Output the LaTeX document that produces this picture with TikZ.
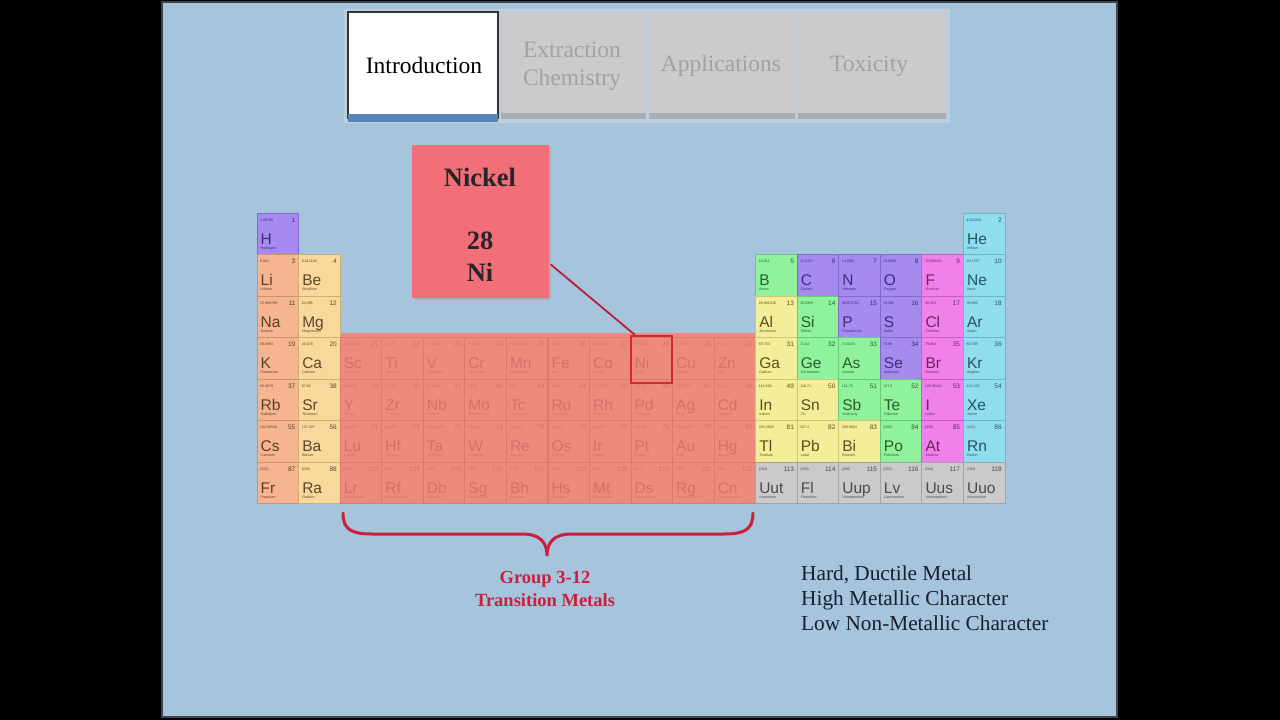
\documentclass[tikz,border=0pt]{standalone}
\usepackage{fontspec}
\setmainfont{Liberation Serif}
\newfontfamily\elfont{Liberation Sans}
\usetikzlibrary{shadows,calc}
\definecolor{slidebg}{HTML}{A7C4DD}
\definecolor{slideborder}{HTML}{3C4652}
\definecolor{tabgray}{HTML}{CBCBCB}
\definecolor{tabtext}{HTML}{A2A2A2}
\definecolor{tabbar}{HTML}{A8AEB6}
\definecolor{tabblue}{HTML}{5584B8}
\definecolor{tabframe}{HTML}{BFCEDC}
\definecolor{niboxc}{HTML}{F26E78}
\definecolor{bracered}{HTML}{C8203E}
\definecolor{hiline}{HTML}{D02A30}
\definecolor{conline}{HTML}{B8203A}
\definecolor{rtext}{HTML}{16202E}
% category colours
\definecolor{falk}{HTML}{F5B590}\definecolor{talk}{HTML}{5E3E28}\definecolor{dalk}{HTML}{D09068}
\definecolor{fear}{HTML}{F8D89C}\definecolor{tear}{HTML}{5C4826}\definecolor{dear}{HTML}{CFAE72}
\definecolor{fnon}{HTML}{A68AEF}\definecolor{tnon}{HTML}{3E2C76}\definecolor{dnon}{HTML}{8468CE}
\definecolor{fnob}{HTML}{90DDF0}\definecolor{tnob}{HTML}{245264}\definecolor{dnob}{HTML}{68B8CC}
\definecolor{fhal}{HTML}{F080EA}\definecolor{thal}{HTML}{66285F}\definecolor{dhal}{HTML}{CA5CC4}
\definecolor{fmet}{HTML}{90F29C}\definecolor{tmet}{HTML}{285E2C}\definecolor{dmet}{HTML}{68CC76}
\definecolor{fpst}{HTML}{F4EE9A}\definecolor{tpst}{HTML}{56501C}\definecolor{dpst}{HTML}{CEC874}
\definecolor{funk}{HTML}{CACACA}\definecolor{tunk}{HTML}{4A4A4A}\definecolor{dunk}{HTML}{A4A4A4}
\definecolor{ftra}{HTML}{EC8A7E}\definecolor{ttra}{HTML}{D27266}\definecolor{dtra}{HTML}{DC7A6E}
\tikzset{
  cell/.style={minimum width=41.5pt, minimum height=41.5pt, inner sep=0pt, outer sep=0pt, anchor=north west, line width=0.7pt},
  symtext/.style={font=\elfont\fontsize{15.5}{16}\selectfont, inner sep=0pt, anchor=base west},
  numtext/.style={font=\elfont\fontsize{6.5}{7}\selectfont, inner sep=0pt, anchor=base east},
  masstext/.style={font=\elfont\fontsize{3.6}{4}\selectfont, inner sep=0pt, anchor=base west},
  nametext/.style={font=\elfont\fontsize{3.6}{4}\selectfont, inner sep=0pt, anchor=base west},
  tabbox/.style={minimum width=145pt, minimum height=104pt, inner sep=0pt, outer sep=0pt, fill=tabgray},
  tablabel/.style={font=\fontsize{23.5}{28}\selectfont, text=tabtext, align=center, inner sep=0pt},
  nilabel/.style={font=\bfseries\fontsize{26.5}{30}\selectfont, text=black!85, inner sep=0pt},
  grouplabel/.style={font=\bfseries\fontsize{18.5}{23}\selectfont, text=bracered, align=center, inner sep=0pt},
  proptext/.style={font=\fontsize{21.3}{25}\selectfont, text=rtext, align=left, inner sep=0pt, anchor=north west},
}
\begin{document}
\begin{tikzpicture}[x=1pt,y=-1pt]
\useasboundingbox (0,0) rectangle (1280,720);
\fill[black] (0,0) rectangle (1280,720);
% slide
\filldraw[fill=slidebg, draw=slideborder, line width=1.8pt] (162,2) rectangle (1117,717);

% tabs
\fill[tabframe] (344,9) rectangle (950,123);
\node[tabbox, fill=white, draw=black!80, line width=1.5pt, minimum width=150pt, minimum height=106pt, anchor=north west] (tabintro) at (348,12) {};
\fill[tabblue] (348,114) rectangle (498,122);
\node[font=\fontsize{23.5}{28}\selectfont, inner sep=0pt] (tintro) at (424,65) {Introduction};
\node[tabbox, anchor=north west] (tabextr) at (501,13) {};
\fill[tabbar] (501,113) rectangle (646,119);
\node[tablabel] (textr) at (572,66) {Extraction\\Chemistry};
\node[tabbox, anchor=north west, minimum width=146pt] (tabappl) at (649,13) {};
\fill[tabbar] (649,113) rectangle (795,119);
\node[tablabel] (tappl) at (721,66) {Applications};
\node[tabbox, anchor=north west, minimum width=148pt] (tabtox) at (798,13) {};
\fill[tabbar] (798,113) rectangle (946,119);
\node[tablabel] (ttox) at (869,66) {Toxicity};

% transition block backdrop
\fill[ftra] (341,333) rectangle (757,503);

% periodic table
\foreach \c/\r/\s/\n/\nm/\m/\k in {
1/1/H/1/Hydrogen/1.00794/non, 18/1/He/2/Helium/4.002602/nob,
1/2/Li/3/Lithium/6.941/alk, 2/2/Be/4/Beryllium/9.012182/ear, 13/2/B/5/Boron/10.811/met, 14/2/C/6/Carbon/12.0107/non, 15/2/N/7/Nitrogen/14.0067/non, 16/2/O/8/Oxygen/15.9994/non, 17/2/F/9/Fluorine/18.998403/hal, 18/2/Ne/10/Neon/20.1797/nob,
1/3/Na/11/Sodium/22.989769/alk, 2/3/Mg/12/Magnesium/24.305/ear, 13/3/Al/13/Aluminium/26.981538/pst, 14/3/Si/14/Silicon/28.0855/met, 15/3/P/15/Phosphorus/30.973762/non, 16/3/S/16/Sulfur/32.065/non, 17/3/Cl/17/Chlorine/35.453/hal, 18/3/Ar/18/Argon/39.948/nob,
1/4/K/19/Potassium/39.0983/alk, 2/4/Ca/20/Calcium/40.078/ear, 3/4/Sc/21/Scandium/44.955912/tra, 4/4/Ti/22/Titanium/47.867/tra, 5/4/V/23/Vanadium/50.9415/tra, 6/4/Cr/24/Chromium/51.9961/tra, 7/4/Mn/25/Manganese/54.938045/tra, 8/4/Fe/26/Iron/55.845/tra, 9/4/Co/27/Cobalt/58.933195/tra, 10/4/Ni/28/Nickel/58.6934/tra, 11/4/Cu/29/Copper/63.546/tra, 12/4/Zn/30/Zinc/65.38/tra, 13/4/Ga/31/Gallium/69.723/pst, 14/4/Ge/32/Germanium/72.64/met, 15/4/As/33/Arsenic/74.9216/met, 16/4/Se/34/Selenium/78.96/non, 17/4/Br/35/Bromine/79.904/hal, 18/4/Kr/36/Krypton/83.798/nob,
1/5/Rb/37/Rubidium/85.4678/alk, 2/5/Sr/38/Strontium/87.62/ear, 3/5/Y/39/Yttrium/88.90585/tra, 4/5/Zr/40/Zirconium/91.224/tra, 5/5/Nb/41/Niobium/92.90638/tra, 6/5/Mo/42/Molybdenum/95.96/tra, 7/5/Tc/43/Technetium/(98)/tra, 8/5/Ru/44/Ruthenium/101.07/tra, 9/5/Rh/45/Rhodium/102.9055/tra, 10/5/Pd/46/Palladium/106.42/tra, 11/5/Ag/47/Silver/107.8682/tra, 12/5/Cd/48/Cadmium/112.411/tra, 13/5/In/49/Indium/114.818/pst, 14/5/Sn/50/Tin/118.71/pst, 15/5/Sb/51/Antimony/121.76/met, 16/5/Te/52/Tellurium/127.6/met, 17/5/I/53/Iodine/126.90447/hal, 18/5/Xe/54/Xenon/131.293/nob,
1/6/Cs/55/Caesium/132.90545/alk, 2/6/Ba/56/Barium/137.327/ear, 3/6/Lu/71/Lutetium/174.967/tra, 4/6/Hf/72/Hafnium/178.49/tra, 5/6/Ta/73/Tantalum/180.94788/tra, 6/6/W/74/Tungsten/183.84/tra, 7/6/Re/75/Rhenium/186.207/tra, 8/6/Os/76/Osmium/190.23/tra, 9/6/Ir/77/Iridium/192.217/tra, 10/6/Pt/78/Platinum/195.084/tra, 11/6/Au/79/Gold/196.96657/tra, 12/6/Hg/80/Mercury/200.59/tra, 13/6/Tl/81/Thallium/204.3833/pst, 14/6/Pb/82/Lead/207.2/pst, 15/6/Bi/83/Bismuth/208.9804/pst, 16/6/Po/84/Polonium/(209)/met, 17/6/At/85/Astatine/(210)/hal, 18/6/Rn/86/Radon/(222)/nob,
1/7/Fr/87/Francium/(223)/alk, 2/7/Ra/88/Radium/(226)/ear, 3/7/Lr/103/Lawrencium/(262)/tra, 4/7/Rf/104/Rutherfordium/(267)/tra, 5/7/Db/105/Dubnium/(268)/tra, 6/7/Sg/106/Seaborgium/(271)/tra, 7/7/Bh/107/Bohrium/(272)/tra, 8/7/Hs/108/Hassium/(270)/tra, 9/7/Mt/109/Meitnerium/(276)/tra, 10/7/Ds/110/Darmstadtium/(281)/tra, 11/7/Rg/111/Roentgenium/(280)/tra, 12/7/Cn/112/Copernicium/(285)/tra, 13/7/Uut/113/Ununtrium/(284)/unk, 14/7/Fl/114/Flerovium/(289)/unk, 15/7/Uup/115/Ununpentium/(288)/unk, 16/7/Lv/116/Livermorium/(293)/unk, 17/7/Uus/117/Ununseptium/(294)/unk, 18/7/Uuo/118/Ununoctium/(294)/unk}
{
  \pgfmathsetmacro{\X}{257+(\c-1)*41.55}
  \pgfmathsetmacro{\Y}{213+(\r-1)*41.5}
  \node[cell, fill=f\k, draw=d\k] (el\s) at (\X,\Y) {};
  \node[masstext, text=t\k] (ms\s) at (\X+3,\Y+8) {\m};
  \node[numtext, text=t\k] (nu\s) at (\X+38.5,\Y+9) {\n};
  \node[symtext, text=t\k] (sy\s) at (\X+3.5,\Y+31) {\s};
  \node[nametext, text=t\k] (nm\s) at (\X+3.5,\Y+36) {\nm};
}

% Nickel box
\node[fill=niboxc, minimum width=137pt, minimum height=153pt, inner sep=0pt,
      drop shadow={shadow xshift=1.5pt, shadow yshift=-1.5pt, opacity=0.25}] (nickel) at (480.5,221.5) {};
\node[nilabel] (nititle) at (480,177) {Nickel};
\node[nilabel] (ninum) at (480,241) {28};
\node[nilabel] (nisym) at (480,272) {Ni};

% highlight of Ni
\node[draw=hiline, line width=2.5pt, minimum width=41pt, minimum height=47pt, inner sep=0pt] (hl) at (651.5,359.5) {};
\draw[conline, line width=1.8pt] ($(nickel.north east)!0.78!(nickel.south east)+(1.5,0)$) -- ([xshift=5pt]hl.north west);

% brace
\draw[bracered, line width=3pt, line cap=round]
  (343,513) .. controls (343,530) and (352,534) .. (372,534) -- (522,534)
  .. controls (540,534) and (547,542) .. (547,556)
  .. controls (547,542) and (554,534) .. (572,534) -- (724,534)
  .. controls (744,534) and (753,530) .. (753,513);
\node[grouplabel] (glabel) at (545,589) {Group 3-12\\Transition Metals};

% properties
\node[proptext] (props) at (801,566) {Hard, Ductile Metal\\High Metallic Character\\Low Non-Metallic Character};
\end{tikzpicture}
\end{document}
